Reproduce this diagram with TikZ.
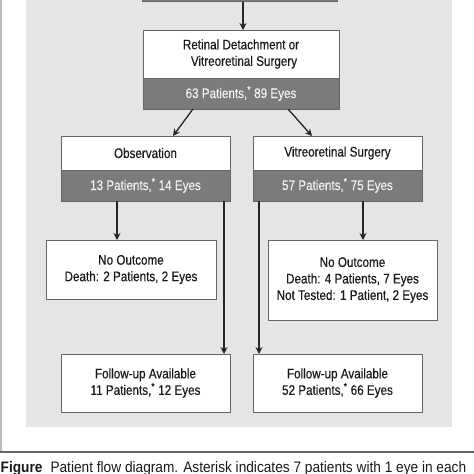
\documentclass[tikz,border=0pt]{standalone}
\usepackage{fontspec}
\setmainfont[FakeStretch=0.84,FakeBold=0.35]{Liberation Sans}
\newfontfamily\capfont[FakeStretch=0.9]{Liberation Sans}
\usetikzlibrary{arrows.meta}
\definecolor{panel}{HTML}{E4E5E7}
\definecolor{darkfill}{HTML}{7A7B7D}
\definecolor{boxline}{HTML}{656565}
\definecolor{arrowc}{HTML}{262626}
\definecolor{lighttext}{HTML}{F2F2F2}
\tikzset{
  whitebox/.style={draw=boxline, line width=1pt, fill=white, inner sep=0pt, outer sep=0pt,
     align=center, font=\fontsize{13.9pt}{16.5pt}\selectfont, text=black!90},
  darkbox/.style={draw=boxline, line width=1pt, fill=darkfill, inner sep=0pt, outer sep=0pt,
     align=center, font=\fontsize{13.9pt}{16.5pt}\selectfont, text=lighttext},
  arr/.style={draw=arrowc, line width=1.3pt, -{Stealth[length=7pt,width=7pt]}},
}
\newcommand{\myast}{\textsuperscript{*}}
\begin{document}
\begin{tikzpicture}[x=1pt,y=-1pt]
\useasboundingbox (0,0) rectangle (474,474);
\clip (0,0) rectangle (474,474);
% frame and panel
\fill[panel] (26,-2) rectangle (452,427);
\draw[color=gray!55, line width=2.5pt] (1.2,-2) -- (1.2,452);
\draw[color=boxline, line width=1.3pt] (0,452) -- (476,452);
% top (cut) box
\node[darkbox, minimum width=195pt, minimum height=12pt, anchor=south west] (top) at (142,1.5) {};
% Retinal detachment box
\node[whitebox, minimum width=196pt, minimum height=48pt, anchor=north west] (rdT) at (143,30)
  {Retinal Detachment or\\\hspace*{6pt}Vitreoretinal Surgery};
\node[darkbox, minimum width=196pt, minimum height=31pt, anchor=north west] (rdB) at (143,78)
  {63 Patients,\myast{} 89 Eyes};
% Observation
\node[whitebox, minimum width=169pt, minimum height=34pt, anchor=north west] (obsT) at (61,136)
  {Observation};
\node[darkbox, minimum width=169pt, minimum height=31pt, anchor=north west] (obsB) at (61,170)
  {13 Patients,\myast{} 14 Eyes};
% Vitreoretinal Surgery
\node[whitebox, minimum width=169pt, minimum height=34pt, anchor=north west] (vsT) at (253,136)
  {Vitreoretinal Surgery};
\node[darkbox, minimum width=169pt, minimum height=31pt, anchor=north west] (vsB) at (253,170)
  {57 Patients,\myast{} 75 Eyes};
% No outcome
\node[whitebox, minimum width=170pt, minimum height=59pt, anchor=north west] (noL) at (46,240)
  {No Outcome\\Death: 2 Patients, 2 Eyes};
\node[whitebox, minimum width=169pt, minimum height=80pt, anchor=north west] (noR) at (268,240)
  {No Outcome\\Death: 4 Patients, 7 Eyes\\Not Tested: 1 Patient, 2 Eyes};
% Follow-up
\node[whitebox, minimum width=169pt, minimum height=58pt, anchor=north west] (fuL) at (61,354)
  {Follow-up Available\\11 Patients,\myast{} 12 Eyes};
\node[whitebox, minimum width=169pt, minimum height=58pt, anchor=north west] (fuR) at (253,354)
  {Follow-up Available\\52 Patients,\myast{} 66 Eyes};
% connectors
\draw[arr] ([xshift=101pt]top.south west) -- ([xshift=100pt]rdT.north west);
\draw[arr] ([xshift=50pt]rdB.south west) -- ([xshift=112pt]obsT.north west);
\draw[arr] ([xshift=145pt]rdB.south west) -- ([xshift=59pt]vsT.north west);
\draw[arr] ([xshift=56pt]obsB.south west) -- ([xshift=56pt]obsB.south west |- noL.north);
\draw[arr] ([xshift=-6pt]obsB.south east) -- ([xshift=-6pt]obsB.south east |- fuL.north);
\draw[arr] ([xshift=6pt]vsB.south west) -- ([xshift=6pt]vsB.south west |- fuR.north);
\draw[arr] ([xshift=110pt]vsB.south west) -- ([xshift=110pt]vsB.south west |- noR.north);
% caption
\node[anchor=base west, inner sep=0pt, font=\capfont\fontsize{15.2pt}{18pt}\selectfont, text=black!90] (cap) at (0.5,472)
  {\textbf{Figure}\hspace{8pt}Patient flow diagram. Asterisk indicates 7 patients with 1 eye in each};
\end{tikzpicture}
\end{document}
